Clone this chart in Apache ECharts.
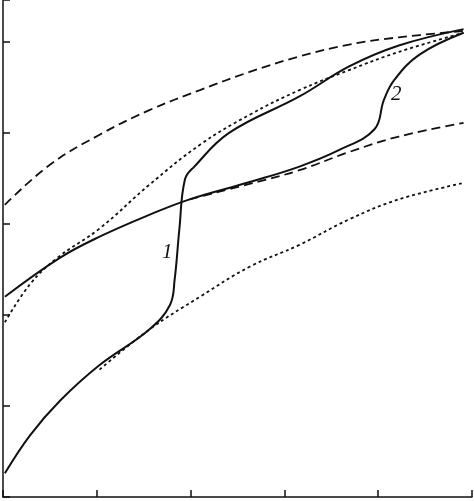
<!DOCTYPE html>
<html>
<head>
<meta charset="utf-8">
<script src="https://cdn.jsdelivr.net/npm/echarts@6/dist/echarts.min.js"></script>
<style>html,body{margin:0;padding:0;background:#fff}#chart{width:474px;height:501px}</style>
</head>
<body>
<div id="chart"></div>
<script>
// curves as [x, y] in axis units
var solid1 = [[0.02,0.26],[0.29,0.68],[0.61,1.06],[1.03,1.45],[1.56,1.84],[1.78,2.11],[1.83,2.39],[1.88,2.94],[1.94,3.49],[2.04,3.63],[2.41,4.0],[3.16,4.40],[3.69,4.73],[4.22,4.96],[4.91,5.14]];
var solid2 = [[0.02,2.2],[0.61,2.63],[1.03,2.86],[1.56,3.1],[1.99,3.27],[2.63,3.46],[3.16,3.63],[3.58,3.81],[3.96,4.04],[4.06,4.36],[4.17,4.58],[4.44,4.86],[4.91,5.10]];
var dashUpper = [[0.02,3.21],[0.5,3.65],[1.03,3.98],[1.56,4.25],[2.1,4.47],[2.63,4.67],[3.16,4.84],[3.69,4.97],[4.22,5.05],[4.91,5.12]];
var dashLower = [[1.99,3.27],[2.63,3.44],[3.16,3.59],[3.69,3.79],[4.22,3.96],[4.91,4.11]];
var dotUpper = [[0.02,1.92],[0.29,2.34],[0.57,2.62],[1.03,2.95],[1.56,3.43],[2.1,3.87],[2.63,4.2],[3.16,4.47],[3.69,4.69],[4.22,4.89],[4.91,5.1]];
var dotLower = [[1.03,1.4],[1.56,1.84],[2.1,2.2],[2.63,2.53],[3.16,2.77],[3.69,3.05],[4.22,3.27],[4.91,3.45]];

function line(data, type, w) {
  return {type: 'line', data: data, smooth: 0.4, showSymbol: false,
    lineStyle: {color: '#111', width: w, type: type}, z: 2};
}

var chart = echarts.init(document.getElementById('chart'));
chart.setOption({
  animation: false,
  grid: {left: 3, right: 2, top: 0, bottom: 4},
  xAxis: {type: 'value', min: 0, max: 5, interval: 1,
    axisLine: {lineStyle: {color: '#111', width: 1.5}},
    axisTick: {inside: true, length: 7, lineStyle: {color: '#111', width: 1.5}},
    axisLabel: {show: false}, splitLine: {show: false}},
  yAxis: {type: 'value', min: 0, max: 5.46, interval: 1,
    axisLine: {lineStyle: {color: '#111', width: 1.5}},
    axisTick: {inside: true, length: 7, lineStyle: {color: '#111', width: 1.5}},
    axisLabel: {show: false}, splitLine: {show: false}},
  graphic: [
    {type: 'text', left: 162, top: 242, style: {text: '1', font: 'italic 21px "Liberation Serif"', fill: '#111'}},
    {type: 'text', left: 391, top: 84, style: {text: '2', font: 'italic 21px "Liberation Serif"', fill: '#111'}}
  ],
  series: [
    line(solid1, 'solid', 2),
    line(solid2, 'solid', 2),
    line(dashUpper, [9, 5], 1.8),
    line(dashLower, [9, 5], 1.8),
    line(dotUpper, [3, 3], 1.8),
    line(dotLower, [3, 3], 1.8)
  ]
});
</script>
</body>
</html>
